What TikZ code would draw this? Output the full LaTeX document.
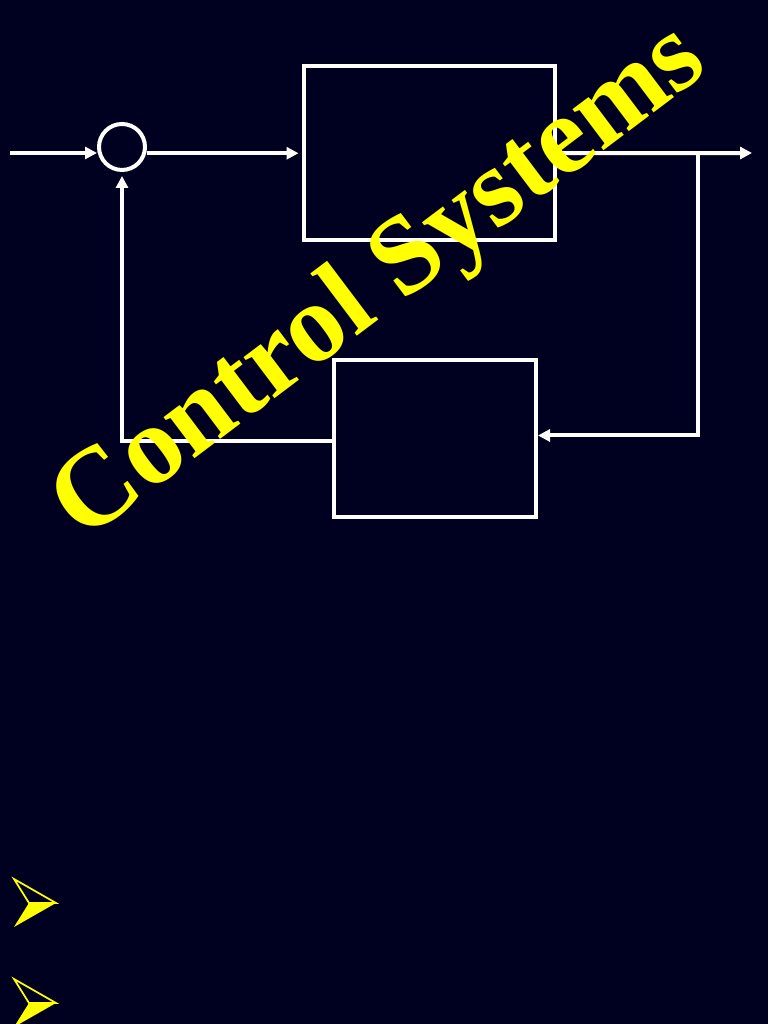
\documentclass[tikz,border=0pt]{standalone}
\usepackage{fontspec}
\setmainfont{Liberation Serif}
\usetikzlibrary{arrows.meta}
\definecolor{slidebg}{RGB}{0,0,32}
\definecolor{slideyellow}{RGB}{255,255,0}

\begin{document}
\begin{tikzpicture}[x = 1pt, y = 1pt,
		signal/.style = {draw = white, line width = 4pt, -{Triangle[length = 12pt, width = 12pt]}},
		block/.style = {draw = white, line width = 4pt, rectangle, inner sep = 0pt}]
				\fill[slidebg] (0,0) rectangle (768,1024);
				\useasboundingbox (0,0) rectangle (768,1024);
				\clip (0,0) rectangle (768,1024);
				% loop
				\node[draw = white, line width = 4pt, circle, minimum size = 46pt, inner sep = 0pt] (sum) at (122,877) {};
				\node[block, minimum width = 251pt, minimum height = 174.5pt] (plant) at (429,870.75) {};
				\node[block, minimum width = 202pt, minimum height = 157pt] (fb) at (435,585.5) {};
				\coordinate (in) at (10,871);
				\coordinate (out) at (752,871);
				\coordinate (branch) at (698,871);
				\draw[signal] (in) -- (in -| sum.west);
				\draw[signal, shorten > = 3pt] (plant.west -| sum.east) -- (plant.west);
				\draw[signal] (plant.east) -- (out);
				\draw[signal] (branch) |- ([yshift = 3pt]fb.east);
				\draw[signal, shorten > = 4pt] ([yshift = -3pt]fb.west) -| (sum.south);
				% title
				\node[text = slideyellow, font = \bfseries\fontsize{112}{120}\selectfont, rotate = 37, inner sep = 0pt] (title) at (381,739) {Control Systems};
				% bullets
				\foreach \y in {0,-100} {
					\fill[slideyellow, shift = {(0,\y)}] (29,121) -- (56,121) -- (14,97) -- cycle;
					\draw[slideyellow, line width = 1.7pt, shift = {(0,\y)}] (29,121) -- (14,145) -- (56,121) -- cycle;
				}
			\end{tikzpicture}
\end{document}
